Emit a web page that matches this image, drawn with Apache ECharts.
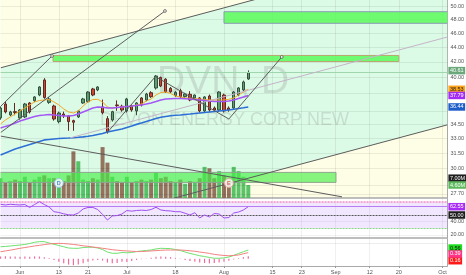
<!DOCTYPE html>
<html><head><meta charset="utf-8">
<script src="https://cdn.jsdelivr.net/npm/echarts@6/dist/echarts.min.js"></script>
<style>html,body{margin:0;padding:0;background:#fff}#c{width:466px;height:275px}</style>
</head><body><div id="c"></div>
<script>
// ---------- categories (trading days, 2016) ----------
const categories = ['05-25','05-26','05-27','05-31','06-01','06-02','06-03','06-06','06-07','06-08','06-09','06-10',
'06-13','06-14','06-15','06-16','06-17','06-20','06-21','06-22','06-23','06-24','06-27','06-28','06-29','06-30',
'07-01','07-05','07-06','07-07','07-08','07-11','07-12','07-13','07-14','07-15','07-18','07-19','07-20','07-21','07-22',
'07-25','07-26','07-27','07-28','07-29','08-01','08-02','08-03','08-04','08-05','08-08','08-09','08-10','08-11','08-12',
'08-15','08-16','08-17','08-18','08-19','08-22','08-23','08-24','08-25','08-26','08-29','08-30','08-31','09-01','09-02',
'09-05','09-06','09-07','09-08','09-09','09-12','09-13','09-14','09-15','09-16','09-19','09-20','09-21','09-22','09-23',
'09-26','09-27','09-28','09-29','09-30','10-03','10-04'];
const tickDates = ['06-01','06-13','06-21','07-01','07-18','08-01','08-15','08-23','09-01','09-12','09-20','10-03'];
const tickTexts = ['Jun','13','21','Jul','18','Aug','15','23','Sep','12','20','Oct'];

// ---------- price (OHLC) ----------
const opens  = [35.20,36.78,35.53,35.90,35.20,35.31,36.90,37.17,37.84,39.68,36.97,36.55,34.79,35.64,35.42,34.90,35.31,36.90,37.05,38.57,38.45,36.44,35.12,34.97,36.67,36.52,
                35.98,36.52,35.98,37.49,37.25,38.12,38.69,39.98,39.78,38.65,37.76,38.36,37.65,37.92,37.49,37.49,35.98,37.72,36.32,36.09,37.84,36.32,36.32,37.84,38.45,39.80];
const closes = [36.32,35.87,35.87,35.80,36.09,36.78,35.87,37.61,38.81,37.53,37.37,35.08,35.75,35.45,34.79,34.72,35.98,37.37,38.20,37.84,38.81,35.79,33.70,35.90,36.60,36.09,
                37.37,36.09,36.90,36.67,37.96,37.64,40.18,38.93,38.24,38.24,38.16,37.64,37.96,37.25,37.84,35.98,37.61,36.09,36.09,38.20,35.98,36.09,38.20,38.69,39.43,40.61];
const lows   = [35.00,35.70,35.40,35.50,35.00,35.20,35.70,37.00,37.70,37.40,36.80,34.90,34.60,35.20,33.80,33.80,35.20,36.80,36.90,37.70,38.30,35.60,33.50,34.80,36.00,35.90,
                35.80,35.90,35.50,36.50,37.10,37.50,38.50,38.80,38.10,38.10,37.60,37.50,37.50,37.10,37.30,35.80,35.80,35.90,35.90,35.90,35.80,35.90,36.20,37.70,38.30,39.70];
const highs  = [36.50,37.10,36.00,36.90,36.20,36.90,37.00,37.70,38.90,39.90,37.60,36.70,35.90,35.90,35.50,35.00,36.10,37.50,38.30,38.70,38.90,37.30,35.40,36.00,37.20,36.70,
                37.50,36.70,37.00,37.60,38.10,38.30,40.30,40.10,39.90,38.80,38.30,38.60,38.10,38.30,37.90,37.60,37.70,37.90,36.50,38.30,38.00,36.50,38.30,38.80,39.60,40.90];
const volumes = [7,5.5,6,6.5,6,7.5,5.5,6.5,7.5,8,7,7,6.5,6,8,16.5,13,6.5,6,7,6.5,18,12.5,7.5,6,5.5,
                 7.5,5.5,6,6.5,6,6.5,9,7,7.5,6,5.5,6.5,5,6,5.5,7,11,10.5,7,9.5,8,7,11,9.5,7.5,4.6];
// ---------- moving averages ----------
const maFast = [34.54,34.97,35.31,35.64,35.98,36.32,36.67,37.02,37.19,37.25,37.31,37.02,36.67,36.21,35.87,35.75,35.98,36.55,37.02,37.31,37.33,37.02,36.44,36.29,36.40,36.44,
                36.48,36.55,36.67,36.78,37.13,37.37,37.84,38.14,38.20,38.02,37.72,37.61,37.49,37.45,37.41,37.37,37.31,37.25,37.25,37.25,37.25,37.33,37.49,37.84,38.20,38.53];
const maMid  = [34.10,34.27,34.43,34.64,34.86,35.03,35.20,35.36,35.48,35.53,35.59,35.53,35.48,35.42,35.42,35.48,35.64,35.87,36.09,36.32,36.44,36.40,36.32,36.32,36.38,36.44,
                36.50,36.55,36.61,36.67,36.78,36.90,37.07,37.25,37.37,37.41,37.43,37.43,37.41,37.37,37.31,37.25,37.19,37.13,37.07,37.07,37.07,37.13,37.25,37.43,37.61,37.79];
const maSlow = [31.32,31.52,31.72,31.92,32.07,32.22,32.37,32.53,32.68,32.84,32.89,32.94,32.99,33.02,33.04,33.07,33.11,33.16,33.22,33.30,33.41,33.52,33.67,33.78,33.89,34.00,
                34.16,34.32,34.49,34.64,34.81,34.97,35.14,35.27,35.36,35.44,35.50,35.53,35.59,35.64,35.70,35.75,35.81,35.87,35.92,35.98,36.04,36.09,36.18,36.26,36.34,36.44];
// ---------- RSI ----------
const rsi = [66.2,65.2,66.2,65.6,65.2,65.9,61.4,65.9,70.2,65.9,62.1,55.0,53.8,51.8,50.3,50.0,53.0,59.1,61.4,61.4,58.3,50.8,42.4,48.5,49.2,51.5,
             56.8,55.8,56.8,57.3,56.8,58.3,61.7,57.6,56.5,56.1,55.0,55.0,52.6,50.0,53.5,45.5,50.0,47.0,52.3,51.5,45.5,46.2,53.0,54.5,57.6,62.55];
// ---------- MACD ----------
const macd = [0.77,0.79,0.82,0.85,0.88,0.92,0.98,1.06,1.10,1.10,1.01,0.93,0.85,0.77,0.69,0.67,0.67,0.72,0.74,0.74,0.69,0.59,0.43,0.35,0.35,0.40,
              0.38,0.40,0.46,0.50,0.53,0.56,0.63,0.67,0.66,0.65,0.59,0.53,0.43,0.34,0.27,0.19,0.14,0.08,0.03,0.03,0.05,0.11,0.21,0.34,0.45,0.56];
const signal = [0.45,0.50,0.55,0.61,0.67,0.72,0.77,0.82,0.86,0.91,0.95,0.98,0.99,0.98,0.95,0.92,0.88,0.83,0.80,0.75,0.72,0.67,0.63,0.58,0.55,0.52,
                0.50,0.48,0.46,0.46,0.48,0.50,0.52,0.54,0.56,0.56,0.56,0.56,0.54,0.51,0.48,0.43,0.39,0.34,0.28,0.24,0.21,0.19,0.21,0.24,0.32,0.39];
const hist = [0.15,0.16,0.15,0.14,0.13,0.14,0.12,0.15,0.14,0.10,0.05,-0.08,-0.2,-0.3,-0.38,-0.42,-0.38,-0.3,-0.2,-0.12,-0.08,-0.12,-0.25,-0.3,-0.28,-0.2,
              -0.22,-0.15,-0.08,-0.03,0.02,0.06,0.12,0.14,0.12,0.1,0.05,-0.02,-0.08,-0.15,-0.2,-0.25,-0.28,-0.3,-0.28,-0.25,-0.2,-0.13,-0.05,0.04,0.1,0.16];
// ---------- axis ticks ----------
const priceTicks = [50,48,46,44,42,40,34.5,33,31.5,30,27.7];
const priceGridOnly = [38,36,28.5];
const rsiTicks = [40,20];
const rsiLevels = [70,50,30];
// ---------- drawings (anchors in [dayIndex from Jun 1, price]) ----------
const channelZone = [[-4,41.23],[88,60.2],[88,34.44],[-4,23.6]];
const trendLines = [
  [[-4,41.23],[88,60.2]],
  [[-4,23.6],[88,34.44]],
  [[-4,36.5],[6.6,42.8]],
  [[-4,33.61],[29.85,49.33]],
  [[17.9,33.57],[27.8,40.05]],
  [[27.9,40.1],[43,35.08],[53.9,42.67]],
  [[-4,33.24],[66.3,27.44]]
];
const faintLine = [[10.3,33.05],[88,45.44]];
const zones = [[6.8,78,42.06,42.87],[42,92,47.45,49.22],[-6,65.06,28.72,29.64]];
const anchorDots = [[6.6,42.8],[29.85,49.33],[53.9,42.67]];
const eventDates = ['06-13','08-02'];
const eventLetters = ['D','E'];
const eventLevel = [5.3,5.3];

// ================= chart =================
const FONT = '"Liberation Sans", Arial, sans-serif';
const L = 0.57, R = 18.6;
const zoneFill = ['rgba(90,250,90,0.85)','rgba(90,250,90,0.85)','rgba(70,240,70,0.65)'];
const zoneStroke = ['#b8a870','#8c9cb4','#8fa58f'];
const tickSet = new Set(tickDates);
const tickInterval = (i, v) => tickSet.has(v);

function tag(val, text, bg, fg, off, line) {
  return {yAxis: val,
    lineStyle: line || {width: 0, color: 'rgba(0,0,0,0)'},
    label: {show: true, position: 'end', formatter: text, backgroundColor: bg, color: fg,
            padding: [1, 1.5, 0.5, 1.5], fontSize: 5.5, fontFamily: FONT, distance: 1, offset: [0, off || 0]}};
}
function axisText(val, text) {
  return {yAxis: val, label: {show: true, position: 'end', formatter: text, color: '#555',
          fontSize: 5.5, fontFamily: FONT, distance: 3}};
}

const chart = echarts.init(document.getElementById('c'), null, {renderer: 'canvas'});
const candleData = opens.map((o, i) => [o, closes[i], lows[i], highs[i]]);
const volData = volumes.map((v, i) => ({value: v, itemStyle: {color: closes[i] >= opens[i] ? 'rgba(70,186,86,0.88)' : 'rgba(140,102,82,0.92)'}}));

function zoneRender(params, api) {
  const cs = params.coordSys;
  return {type: 'polygon', shape: {points: channelZone.map(p => api.coord(p))},
    style: {fill: '#dcfbe7', stroke: 'none'},
    clipPath: {type: 'rect', shape: {x: cs.x, y: cs.y, width: cs.width, height: cs.height}}};
}
function drawRender(params, api) {
  const cs = params.coordSys;
  const P = p => api.coord(p);
  const ch = [];
  zones.forEach((z, i) => {
    const a = P([z[0], z[3]]), b = P([z[1], z[2]]);
    ch.push({type: 'rect', shape: {x: a[0], y: a[1], width: b[0] - a[0], height: b[1] - a[1]},
      style: {fill: zoneFill[i], stroke: zoneStroke[i], lineWidth: 1}});
  });
  ch.push({type: 'polyline', shape: {points: faintLine.map(P)}, style: {stroke: '#c4b4c8', lineWidth: 1, fill: 'none'}});
  trendLines.forEach(l => ch.push({type: 'polyline', shape: {points: l.map(P)}, style: {stroke: '#5c5c5c', lineWidth: 1, fill: 'none'}}));
  anchorDots.forEach(d => { const q = P(d); ch.push({type: 'circle', shape: {cx: q[0], cy: q[1], r: 1.4}, style: {fill: '#fff', stroke: '#555', lineWidth: 0.8}}); });
  return {type: 'group', children: ch,
    clipPath: {type: 'rect', shape: {x: cs.x, y: cs.y, width: cs.width, height: cs.height}}};
}

const axLine = (w) => ({show: true, onZero: false, lineStyle: {color: '#a9a9a9', width: w || 1}});

const option = {
  animation: false,
  backgroundColor: '#ffffff',
  textStyle: {fontFamily: FONT},
  graphic: [
    {type: 'text', left: 157, top: 63, z: 3, silent: true,
     style: {text: 'DVN, D', font: '39px ' + FONT, fill: 'rgba(110,110,110,0.2)'}},
    {type: 'text', left: 100, top: 111, z: 3, silent: true,
     style: {text: 'DEVON ENERGY CORP NEW', font: '18px ' + FONT, fill: 'rgba(110,110,110,0.2)'}}
  ],
  grid: [
    {left: L, right: R, top: 0, height: 198, show: true, backgroundColor: '#fefde5', borderWidth: 0},
    {left: L, right: R, top: 199, height: 39},
    {left: L, right: R, top: 239, height: 27}
  ],
  xAxis: [
    {type: 'category', gridIndex: 0, data: categories, boundaryGap: false,
     axisLine: axLine(1.5), axisTick: {show: false}, axisLabel: {show: false}, splitLine: {show: false}},
    {type: 'category', gridIndex: 1, data: categories, boundaryGap: false,
     axisLine: axLine(1.5), axisTick: {show: false}, axisLabel: {show: false},
     splitLine: {show: true, interval: tickInterval, lineStyle: {color: 'rgba(0,0,0,0.06)'}}},
    {type: 'category', gridIndex: 2, data: categories, boundaryGap: false,
     axisLine: axLine(1),
     axisTick: {show: true, interval: tickInterval, length: 2, lineStyle: {color: '#999'}},
     axisLabel: {show: true, interval: tickInterval, margin: 3, fontSize: 5.5, color: '#555', fontFamily: FONT,
                 formatter: v => { const k = tickDates.indexOf(v); return k >= 0 ? tickTexts[k] : ''; }},
     splitLine: {show: true, interval: tickInterval, lineStyle: {color: 'rgba(0,0,0,0.06)'}}},
    {type: 'value', gridIndex: 0, min: -4, max: 88, show: false, axisLine: {show: false, onZero: false}}
  ],
  yAxis: [
    {type: 'log', gridIndex: 0, position: 'right', min: 27.34, max: 51.07,
     axisLine: axLine(1), axisTick: {show: false}, axisLabel: {show: false}, splitLine: {show: false}},
    {type: 'value', gridIndex: 0, min: 0, max: 70, show: false, axisLine: {show: false, onZero: false}},
    {type: 'value', gridIndex: 1, position: 'right', min: 15.2, max: 74.2,
     axisLine: axLine(1), axisTick: {show: false}, axisLabel: {show: false}, splitLine: {show: false}},
    {type: 'value', gridIndex: 2, position: 'right', min: -0.47, max: 1.27,
     axisLine: axLine(1), axisTick: {show: false}, axisLabel: {show: false}, splitLine: {show: false}}
  ],
  series: [
    {type: 'custom', name: 'zone', xAxisIndex: 3, yAxisIndex: 0, z: 1, silent: true, renderItem: zoneRender, data: [[0, 40]]},
    {type: 'line', name: 'grid', xAxisIndex: 0, yAxisIndex: 0, z: 2, data: [], silent: true,
     markLine: {silent: true, symbol: ['none', 'none'], animation: false,
       lineStyle: {color: 'rgba(0,0,0,0.07)', width: 1, type: 'solid'}, label: {show: false},
       data: [].concat(
         priceTicks.map(v => axisText(v, v.toFixed(2))),
         priceGridOnly.map(v => ({yAxis: v, label: {show: false}})),
         tickDates.map(d => ({xAxis: d, label: {show: false}}))
       )}},
    {type: 'bar', name: 'Volume', xAxisIndex: 0, yAxisIndex: 1, z: 3, barWidth: 4, data: volData,
     markLine: {silent: true, symbol: ['none', 'none'], animation: false,
       data: [tag(7, '7.00M', '#1e1e1e', '#fff'), tag(4.6, '4.60M', '#5cb85c', '#fff')]}},
    {type: 'candlestick', name: 'DVN', xAxisIndex: 0, yAxisIndex: 0, z: 4, barWidth: 2.8, data: candleData,
     itemStyle: {color: '#5f9f70', color0: '#d24634', borderColor: '#34503e', borderColor0: '#5e2a22', borderWidth: 1},
     markLine: {silent: true, symbol: ['none', 'none'], animation: false,
       data: [tag(40.61, '40.61', '#6aa77b', '#fff', -2, {color: '#9fd6ad', width: 1, type: 'solid'})]}},
    {type: 'line', name: 'EMA fast', xAxisIndex: 0, yAxisIndex: 0, z: 5, data: maFast, showSymbol: false, symbol: 'none',
     lineStyle: {color: '#f2a62a', width: 1},
     markLine: {silent: true, symbol: ['none', 'none'], animation: false, data: [tag(38.53, '38.53', '#ffa31a', '#222')]}},
    {type: 'line', name: 'EMA mid', xAxisIndex: 0, yAxisIndex: 0, z: 5, data: maMid, showSymbol: false, symbol: 'none',
     lineStyle: {color: '#a457f5', width: 1.5},
     markLine: {silent: true, symbol: ['none', 'none'], animation: false, data: [tag(37.79, '37.79', '#a32cf5', '#fff')]}},
    {type: 'line', name: 'SMA slow', xAxisIndex: 0, yAxisIndex: 0, z: 5, data: maSlow, showSymbol: false, symbol: 'none',
     lineStyle: {color: '#2d6fd6', width: 1.6},
     markLine: {silent: true, symbol: ['none', 'none'], animation: false, data: [tag(36.44, '36.44', '#1d5cc9', '#fff')]}},
    {type: 'custom', name: 'drawings', xAxisIndex: 3, yAxisIndex: 0, z: 6, silent: true, renderItem: drawRender, data: [[0, 40]]},
    {type: 'scatter', name: 'events', xAxisIndex: 0, yAxisIndex: 1, z: 7, symbolSize: 9,
     data: eventDates.map((d, i) => ({value: [d, eventLevel[i]],
       itemStyle: {color: '#fff', borderColor: i === 0 ? '#90bdf0' : '#f0a0a0', borderWidth: 1},
       label: {show: true, position: 'inside', formatter: eventLetters[i], fontSize: 5.5, fontWeight: 'bold',
               color: i === 0 ? '#2a73d9' : '#e0452f'}}))},
    // RSI
    {type: 'line', name: 'RSI', xAxisIndex: 1, yAxisIndex: 2, z: 5, data: rsi, showSymbol: false, symbol: 'none',
     lineStyle: {color: '#a04ff0', width: 1},
     markArea: {silent: true, itemStyle: {color: 'rgba(170,110,255,0.17)'}, data: [[{yAxis: rsiLevels[2]}, {yAxis: rsiLevels[0]}]]},
     markLine: {silent: true, symbol: ['none', 'none'], animation: false,
       data: [].concat(
         rsiTicks.map(v => Object.assign(axisText(v, v.toFixed(2)), {lineStyle: {color: 'rgba(0,0,0,0.05)', width: 1, type: 'solid'}})),
         [{yAxis: rsiLevels[0], lineStyle: {color: '#f58fc0', width: 1.5, type: [2, 1]}, label: {show: false}},
          {yAxis: rsiLevels[2], lineStyle: {color: '#86d486', width: 1, type: [2, 1]}, label: {show: false}},
          tag(rsiLevels[1], '50.00', '#1e1e1e', '#fff', 0, {color: '#555', width: 1, type: [2, 1]}),
          tag(rsi[rsi.length - 1], '62.55', '#a92cf5', '#fff', 0, {color: '#b87af5', width: 1, type: 'solid'})]
       )}},
    // MACD
    {type: 'bar', name: 'Histogram', xAxisIndex: 2, yAxisIndex: 3, z: 3, barWidth: 1.2, data: hist,
     itemStyle: {color: '#ee6d9f'},
     markLine: {silent: true, symbol: ['none', 'none'], animation: false,
       data: [{yAxis: 1, lineStyle: {color: 'rgba(0,0,0,0.07)', width: 1, type: 'solid'}, label: {show: false}},
              tag(0.16, '0.16', '#ff1a1a', '#fff', 4.5)]}},
    {type: 'line', name: 'MACD', xAxisIndex: 2, yAxisIndex: 3, z: 5, data: macd, showSymbol: false, symbol: 'none',
     lineStyle: {color: '#6fe06f', width: 1},
     markLine: {silent: true, symbol: ['none', 'none'], animation: false, data: [tag(0.56, '0.56', '#1fdc1f', '#111', -2)]}},
    {type: 'line', name: 'Signal', xAxisIndex: 2, yAxisIndex: 3, z: 5, data: signal, showSymbol: false, symbol: 'none',
     lineStyle: {color: '#f28080', width: 1},
     markLine: {silent: true, symbol: ['none', 'none'], animation: false, data: [tag(0.39, '0.39', '#ff3385', '#fff', 1.3)]}}
  ]
};
chart.setOption(option);
</script>
</body></html>
